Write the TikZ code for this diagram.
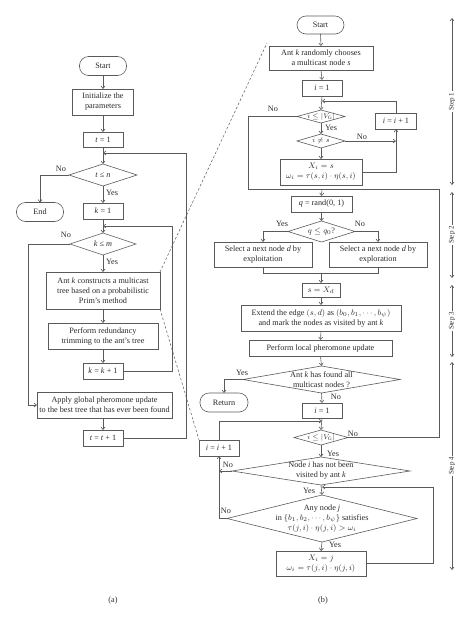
\documentclass[tikz,border=0pt]{standalone}
\usepackage{fontspec}
\setmainfont{Liberation Serif}
\usetikzlibrary{shapes.geometric,arrows.meta,calc}
\definecolor{lc}{HTML}{5A5A5A}
\definecolor{tc}{HTML}{2A2A2A}
\begin{document}
\begin{tikzpicture}[x=1pt,y=-1pt,
 line width=0.6pt,
 every node/.style={font=\fontsize{8.2}{10}\selectfont, text=tc},
 bx/.style 2 args={draw=lc, rectangle, inner sep=1pt, outer sep=0pt, minimum width=#1pt, minimum height=#2pt, align=center},
 tm/.style 2 args={draw=lc, rectangle, rounded corners=9pt, inner sep=1pt, outer sep=0pt, minimum width=#1pt, minimum height=#2pt},
 dm/.style 2 args={draw=lc, diamond, inner sep=0pt, outer sep=0pt, minimum width=#1pt, minimum height=#2pt},
 txt/.style={align=center, inner sep=0pt},
 smalltxt/.style={align=center, inner sep=0pt, font=\fontsize{7.3}{9}\selectfont},
 lab/.style={inner sep=0pt},
 ar/.style={draw=lc, -{Straight Barb[length=2.5pt,width=4pt]}},
 ln/.style={draw=lc},
 dsh/.style={draw=lc, dashed, dash pattern=on 2.5pt off 2pt, line width=0.5pt},
 steplab/.style={fill=white, rotate=90, inner sep=1.5pt, font=\fontsize{7}{8}\selectfont},
 dbl/.style={draw=lc, {Straight Barb[length=2.5pt,width=4pt]}-{Straight Barb[length=2.5pt,width=4pt]}},
]
\useasboundingbox (0,0) rectangle (474,622);

% ---------------- (a) ----------------
\node[tm={47}{19}] (start) at (103,66) {Start};
\node[bx={61}{26}] (init) at (103,102) {Initialize the\\parameters};
\node[bx={40}{15}] (t1) at (103,139.5) {\textit{t} = 1};
\node[dm={68}{22}] (dtn) at (103,175) {};
\node[txt] (dtnt) at (dtn) {\textit{t} ≤ \textit{n}};
\node[tm={47}{19}] (end) at (40,212) {End};
\node[bx={40}{16}] (k1) at (103,211) {\textit{k} = 1};
\node[dm={66}{22}] (dkm) at (103,244) {};
\node[txt] (dkmt) at (dkm) {\textit{k} ≤ \textit{m}};
\node[bx={114}{37}] (ant) at (103,290.5) {Ant \textit{k} constructs a multicast\\tree based on a probabilistic\\Prim's method};
\node[bx={110}{26}] (red) at (103,336) {Perform redundancy\\trimming to the ant's tree};
\node[bx={40}{16}] (kk) at (103,371) {\textit{k} = \textit{k} + 1};
\node[bx={135}{26}] (glob) at (104.5,405) {Apply global pheromone update\\to the best tree that has ever been found};
\node[bx={40}{16}] (tt) at (103,438) {\textit{t} = \textit{t} + 1};

\node[lab] (l1) at (61,169) {No};
\node[lab] (l2) at (112,193) {Yes};
\node[lab] (l3) at (66,235) {No};
\node[lab] (l4) at (112,262) {Yes};

\coordinate (a1) at (28,405);
\coordinate (kj) at (103,226);
\coordinate (kr) at (172,226);
\coordinate (tj) at (103,153);
\coordinate (tr) at (186,153);

\draw[ar] (start.south) -- (init.north);
\draw[ar] (init.south) -- (t1.north);
\draw[ar] (t1.south) -- (dtn.north);
\draw[ar] (dtn.west) -| (end.north);
\draw[ar] (dtn.south) -- (k1.north);
\draw[ar] (k1.south) -- (dkm.north);
\draw[ar] (dkm.west) -| (a1) -- (glob.west);
\draw[ar] (dkm.south) -- (ant.north);
\draw[ar] (ant.south) -- (red.north);
\draw[ar] (red.south) -- (kk.north);
\draw[ar] (kk.east) -| (kr) -- (kj);
\draw[ar] (tt.north |- glob.south) -- (tt.north);
\draw[ar] (tt.east) -| (tr) -- (tj);

\node[lab] (capa) at (113,601) {(a)};

% ---------------- (b) ----------------
\node[tm={47}{18}] (startb) at (320.5,25) {Start};
\node[bx={104}{24}] (rand) at (321,58) {Ant \textit{k} randomly chooses\\a multicast node \textit{s}};
\node[bx={40}{16}] (i1) at (322,88) {\textit{i} = 1};
\node[dm={48}{13}] (div1) at (321,116.5) {};
\node[smalltxt] (div1t) at (div1) {$i \le |V_{\mathrm{G}}|$};
\node[dm={48}{14}] (dis) at (321,141) {};
\node[smalltxt] (dist) at (dis) {$i \ne s$};
\node[bx={41}{16}] (ii1) at (396,121) {\textit{i} = \textit{i} + 1};
\node[bx={82}{26}] (xs) at (321,172) {$X_i = s$\\$\omega_i = \tau(s,i)\cdot\eta(s,i)$};
\node[bx={61}{16}] (q) at (321.5,204) {\textit{q} = rand(0, 1)};
\node[dm={67}{21}] (dq) at (321.5,231.5) {};
\node[txt] (dqt) at (dq) {$q \le q_0$?};
\node[bx={98}{25}] (exploit) at (263,254.5) {Select a next node \textit{d} by\\exploitation};
\node[bx={98}{25}] (explore) at (378,254.5) {Select a next node \textit{d} by\\exploration};
\node[bx={38}{14}] (sx) at (321,290) {$s = X_d$};
\node[bx={160}{26}] (ext) at (321,318) {Extend the edge $(s,d)$ as $(b_0, b_1, \cdots, b_\psi)$\\and mark the nodes as visited by ant \textit{k}};
\node[bx={143}{16}] (local) at (320.5,348) {Perform local pheromone update};
\node[dm={157}{27}] (dall) at (321.5,379.5) {};
\node[txt] (dallt) at (dall) {Ant \textit{k} has found all\\multicast nodes ?};
\node[tm={48}{19}] (ret) at (224,402.5) {Return};
\node[bx={40}{15}] (i1b) at (322,410.5) {\textit{i} = 1};
\node[dm={54}{15}] (div2) at (321,437.5) {};
\node[smalltxt] (div2t) at (div2) {$i \le |V_{\mathrm{G}}|$};
\node[bx={40}{16}] (ii2) at (219,448) {\textit{i} = \textit{i} + 1};
\node[dm={178}{28}] (dvis) at (321,471) {};
\node[txt] (dvist) at (dvis) {Node \textit{i} has not been\\visited by ant \textit{k}};
\node[dm={190}{47}] (dany) at (322,518.5) {};
\node[txt] (danyt) at (dany) {Any node \textit{j}\\in $\{b_1, b_2, \cdots, b_\psi\}$ satisfies\\$\tau(j,i)\cdot\eta(j,i) > \omega_i$};
\node[bx={90}{25}] (xj) at (321,563.5) {$X_i = j$\\$\omega_i = \tau(j,i)\cdot\eta(j,i)$};

\node[lab] (m1) at (273,109) {No};
\node[lab] (m2) at (331,128) {Yes};
\node[lab] (m3) at (362,137) {No};
\node[lab] (m4) at (282,224) {Yes};
\node[lab] (m5) at (360,224) {No};
\node[lab] (m6) at (242,373) {Yes};
\node[lab] (m7) at (336,397) {No};
\node[lab] (m8) at (353,434) {No};
\node[lab] (m9) at (333,454) {Yes};
\node[lab] (m10) at (228,465) {No};
\node[lab] (m11) at (309,491) {Yes};
\node[lab] (m12) at (226,511) {No};
\node[lab] (m13) at (335,545) {Yes};

\coordinate (ij) at (322,101);
\coordinate (jl) at (248,189);
\coordinate (jm) at (322,189);
\coordinate (jr) at (439,189);
\coordinate (nr) at (396,141);
\coordinate (ml) at (263,273);
\coordinate (mr) at (378,273);
\coordinate (mm) at (321,273);
\coordinate (ij2) at (322,421);
\coordinate (vl) at (219,471);
\coordinate (ij3) at (322,487);
\coordinate (xr) at (433,487);

\draw[ar] (startb.south) -- (rand.north);
\draw[ar] (rand.south) -- (i1.north);
\draw[ar] (i1.south) -- (div1.north);
\draw[ar] (ii1.north) |- (ij);
\draw[ln] (div1.west) -| (jl) -- (jr);
\draw[ar] (jm) -- (q.north);
\draw[ar] (div1.south) -- (dis.north);
\draw[ar] (dis.east) -- (nr);
\draw[ar] (xs.east) -| (ii1.south);
\draw[ar] (dis.south) -- (xs.north);
\draw[ar] (q.south) -- (dq.north);
\draw[ar] (dq.west) -| (exploit.north);
\draw[ar] (dq.east) -| (explore.north);
\draw[ln] (exploit.south) -- (ml) -- (mr) -- (explore.south);
\draw[ar] (mm) -- (sx.north);
\draw[ar] (sx.south) -- (ext.north);
\draw[ar] (ext.south) -- (local.north);
\draw[ar] (local.south) -- (dall.north);
\draw[ar] (dall.west) -| (ret.north);
\draw[ar] (dall.south) -- (i1b.north);
\draw[ar] (i1b.south) -- (div2.north);
\draw[ar] (ii2.north) |- (ij2);
\draw[ln] (div2.east) -| (jr);
\draw[ar] (div2.south) -- (dvis.north);
\draw[ar] (dvis.west) -- (vl);
\draw[ar] (dvis.south) -- (dany.north);
\draw[ar] (xj.east) -| (xr) -- (ij3);
\draw[ar] (dany.west) -| (ii2.south);
\draw[ar] (dany.south) -- (xj.north);

\node[lab] (capb) at (323,601) {(b)};

% dashed zoom lines
\coordinate (d1) at (267,43);
\draw[dsh] (ant.north east) -- (d1);
\draw[dsh] (ant.south east) -- (ii2.north west);

% step bars
\coordinate (s1a) at (452,18);
\coordinate (s1b) at (452,185);
\coordinate (s2a) at (452,192);
\coordinate (s2b) at (452,278);
\coordinate (s3a) at (452,285);
\coordinate (s3b) at (452,357);
\coordinate (s4a) at (452,362);
\coordinate (s4b) at (452,570);
\draw[dbl] (s1a) -- node[steplab] (st1) {Step 1} (s1b);
\draw[dbl] (s2a) -- node[steplab] (st2) {Step 2} (s2b);
\draw[dbl] (s3a) -- node[steplab] (st3) {Step 3} (s3b);
\draw[dbl] (s4a) -- node[steplab] (st4) {Step 4} (s4b);
\end{tikzpicture}
\end{document}
